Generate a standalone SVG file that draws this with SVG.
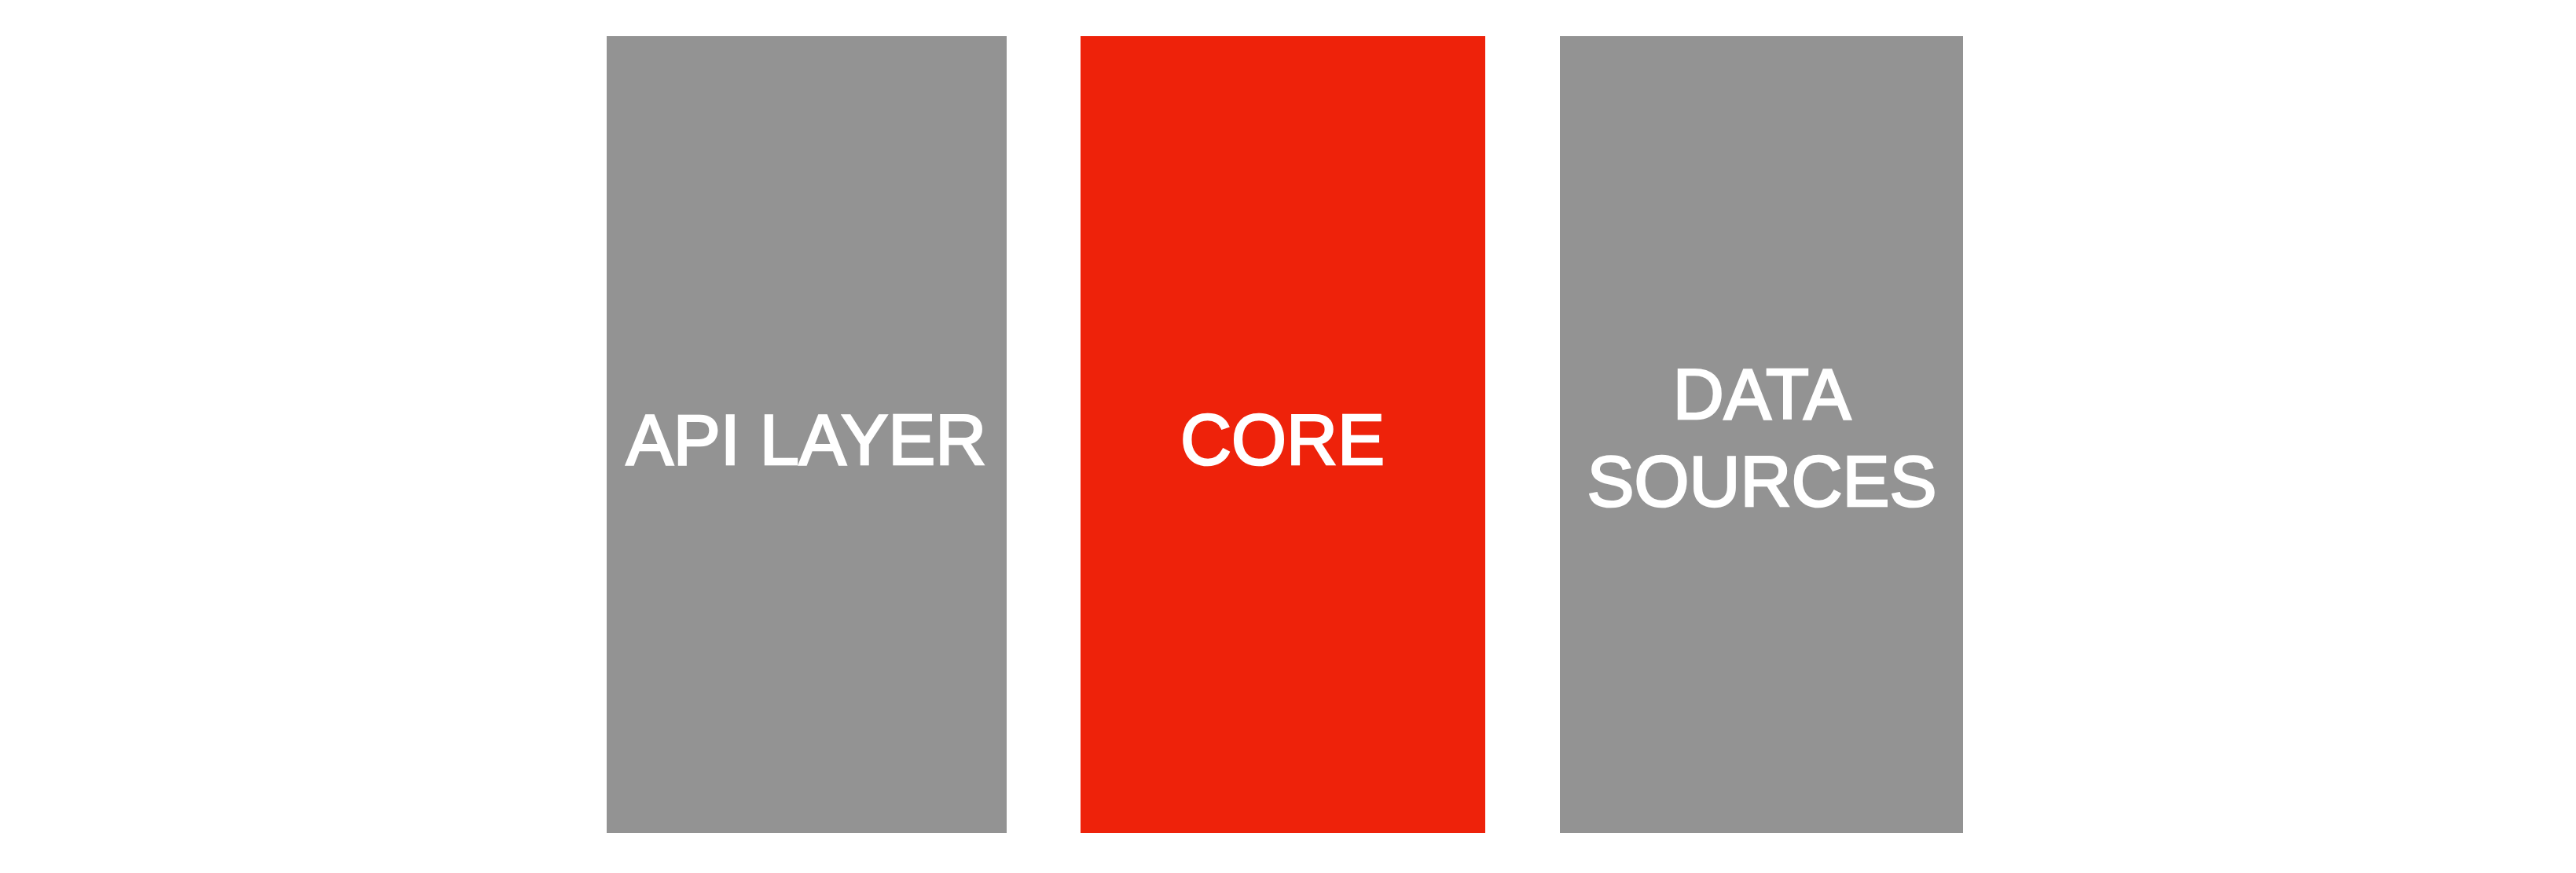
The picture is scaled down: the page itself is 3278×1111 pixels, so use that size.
<svg xmlns="http://www.w3.org/2000/svg" width="3278" height="1111" viewBox="0 0 3278 1111">
<style>
.gray{fill:#939393}
.red{fill:#EE220A}
.lbl{font-family:"Liberation Sans",Arial,Helvetica,sans-serif;font-size:90px;fill:#ffffff;stroke:#ffffff;stroke-width:2.6px;stroke-linejoin:miter;text-anchor:middle}
</style>
<rect x="0" y="0" width="3278" height="1111" fill="#ffffff"/>
<g id="api-layer">
<rect class="gray" x="772" y="46" width="509" height="1014"/>
<text class="lbl" x="1026" y="591">API LAYER</text>
</g>
<g id="core">
<rect class="red" x="1375" y="46" width="515" height="1014"/>
<text class="lbl" x="1632" y="591">CORE</text>
</g>
<g id="data-sources">
<rect class="gray" x="1985" y="46" width="513" height="1014"/>
<text class="lbl" x="2242" y="533">DATA</text>
<text class="lbl" x="2242" y="644">SOURCES</text>
</g>
<g id="connectors"></g>
</svg>
